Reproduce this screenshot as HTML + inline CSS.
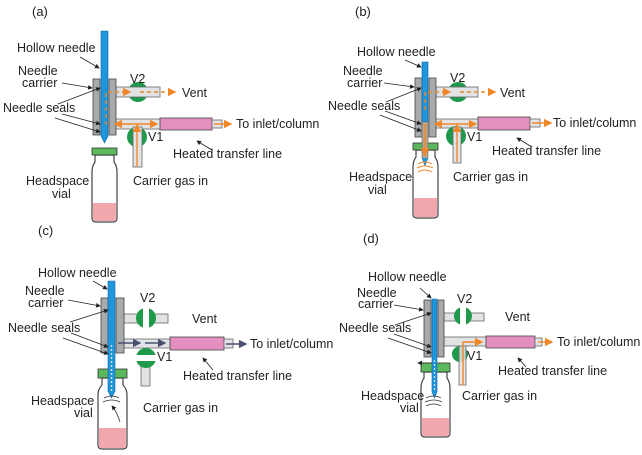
<!DOCTYPE html>
<html><head><meta charset="utf-8"><style>
html,body{margin:0;padding:0;background:#fff;}
svg{display:block;}
text{font-family:"Liberation Sans",sans-serif;font-size:12.5px;fill:#222;}
.blk{fill:#a9aaac;stroke:#444;stroke-width:0.8;}
.tube{fill:#e2e3e4;stroke:#666;stroke-width:0.8;}
.pink{fill:#e48fc0;stroke:#444;stroke-width:0.8;}
.ndl{fill:#1e96dc;stroke:#1565a0;stroke-width:0.6;}
.vg{fill:#1f9a4b;}
.cap{fill:#5cb85c;stroke:#333;stroke-width:0.8;}
.vial{fill:#fff;stroke:#444;stroke-width:1.2;}
.liq{fill:#f2a6ad;}
.or{stroke:#f0882a;stroke-width:1.4;fill:none;}
.ord{stroke:#f0882a;stroke-width:1.4;fill:none;stroke-dasharray:4 3;}
.lead{stroke:#222;stroke-width:0.8;fill:none;}
.dk{stroke:#4a4f6e;stroke-width:1.4;fill:none;}
</style></head><body>
<svg width="642" height="455" viewBox="0 0 642 455" xmlns="http://www.w3.org/2000/svg">
<defs>
<marker id="ao" markerWidth="6" markerHeight="6" refX="5" refY="3" orient="auto"><path d="M0,0 L6,3 L0,6z" fill="#f0882a"/></marker>
<marker id="ad" markerWidth="6" markerHeight="6" refX="5" refY="3" orient="auto"><path d="M0,0 L6,3 L0,6z" fill="#4a4f6e"/></marker>
<marker id="ab" markerWidth="6" markerHeight="6" refX="5" refY="3" orient="auto"><path d="M0,0 L6,3 L0,6z" fill="#222"/></marker>
</defs>

<!-- ===== (a) ===== -->
<text x="32" y="16" style="font-size:13px">(a)</text>
<path class="vial" d="M95,155 L95,162 Q92,166 92,172 L92,218 Q92,222 96,222 L113,222 Q117,222 117,218 L117,172 Q117,166 114,162 L114,155z"/>
<path class="liq" d="M93,203 L116,203 L116,218 Q116,221 113,221 L96,221 Q93,221 93,218z"/>
<rect class="cap" x="92" y="148" width="25" height="7"/>
<circle class="vg" cx="138" cy="92" r="10"/>
<rect class="tube" x="116" y="87" width="44" height="10"/>
<rect class="tube" x="116" y="119" width="46" height="10"/>
<circle class="vg" cx="137" cy="137" r="10"/>
<rect class="tube" x="133" y="127" width="9" height="40"/>
<rect class="blk" x="93" y="79" width="7" height="56"/>
<rect class="blk" x="109" y="79" width="7" height="56"/>
<path class="ndl" d="M101,31 L108,31 L108,136 L104.5,143 L101,136z"/>
<rect class="pink" x="160" y="118" width="52" height="12"/>
<rect class="tube" x="212" y="120" width="10" height="8"/>
<path class="ord" d="M106,125 L106,92 L130,92" marker-end="url(#ao)"/>
<path class="ord" d="M140,92 L175,92" marker-end="url(#ao)"/>
<path class="or" d="M137,124 L115,124" marker-end="url(#ao)"/>
<path class="or" d="M137,124 L157,124" marker-end="url(#ao)"/>
<path class="or" d="M137,167 L137,125" marker-end="url(#ao)"/>
<path class="or" d="M214,124 L231,124" marker-end="url(#ao)"/>
<text x="182" y="97">Vent</text>
<text x="236" y="128">To inlet/column</text>
<text x="148" y="141">V1</text>
<text x="130" y="83">V2</text>
<text x="173" y="158">Heated transfer line</text>
<text x="133" y="185">Carrier gas in</text>
<text x="17" y="52">Hollow needle</text>
<text x="18" y="75">Needle</text>
<text x="22" y="87">carrier</text>
<text x="3" y="112">Needle seals</text>
<text x="26" y="185">Headspace</text>
<text x="52" y="198">vial</text>
<path class="lead" d="M80,57 L99,68" marker-end="url(#ab)"/>
<path class="lead" d="M62,83 L92,88" marker-end="url(#ab)"/>
<path class="lead" d="M58,104 L100,88" marker-end="url(#ab)"/>
<path class="lead" d="M62,114 L100,124" marker-end="url(#ab)"/>
<path class="lead" d="M55,118 L100,132" marker-end="url(#ab)"/>

<!-- ===== (b) ===== -->
<text x="355" y="16" style="font-size:13px">(b)</text>
<path class="vial" d="M416,150 L416,157 Q413,161 413,167 L413,214 Q413,218 417,218 L434,218 Q438,218 438,214 L438,167 Q438,161 435,157 L435,150z"/>
<path class="liq" d="M414,198 L437,198 L437,214 Q437,217 434,217 L417,217 Q414,217 414,214z"/>
<rect class="cap" x="413" y="143" width="25" height="7"/>
<circle class="vg" cx="458" cy="92" r="10"/>
<rect class="tube" x="436" y="87" width="42" height="10"/>
<rect class="tube" x="436" y="119" width="44" height="9"/>
<circle class="vg" cx="456" cy="136" r="10"/>
<rect class="tube" x="453" y="127" width="8" height="36"/>
<rect class="blk" x="415" y="78" width="7" height="59"/>
<rect class="blk" x="429" y="78" width="7" height="59"/>
<rect x="422" y="62" width="6" height="60" class="ndl"/>
<path d="M422,122 L428,122 L428,158 L425,166 L422,158z" fill="#b9a68a" stroke="#666" stroke-width="0.6"/>
<path d="M422,158 L428,158 L425,166z" fill="#1e96dc"/>
<rect class="pink" x="478" y="117" width="52" height="13"/>
<rect class="tube" x="530" y="119" width="10" height="8"/>
<path class="ord" d="M425,110 L425,92 L450,92" marker-end="url(#ao)"/>
<path class="ord" d="M460,92 L495,92" marker-end="url(#ao)"/>
<path class="or" d="M457,124 L435,124" marker-end="url(#ao)"/>
<path class="or" d="M457,124 L476,124" marker-end="url(#ao)"/>
<path class="or" d="M457,162 L457,125" marker-end="url(#ao)"/>
<path class="or" d="M532,123 L551,123" marker-end="url(#ao)"/>
<path class="or" d="M425,124 L425,155" marker-end="url(#ao)"/>
<path d="M418,164 q7,-4 14,0 M417,168 q8,-4 16,0 M418,172 q7,-4 14,0" stroke="#f0882a" stroke-width="1" fill="none"/>
<text x="500" y="97">Vent</text>
<text x="553" y="127">To inlet/column</text>
<text x="467" y="141">V1</text>
<text x="450" y="82">V2</text>
<text x="492" y="155">Heated transfer line</text>
<text x="453" y="181">Carrier gas in</text>
<text x="357" y="56">Hollow needle</text>
<text x="343" y="75">Needle</text>
<text x="347" y="87">carrier</text>
<text x="328" y="110">Needle seals</text>
<text x="349" y="181">Headspace</text>
<text x="368" y="194">vial</text>
<path class="lead" d="M405,60 L421,67" marker-end="url(#ab)"/>
<path class="lead" d="M384,83 L414,87" marker-end="url(#ab)"/>
<path class="lead" d="M386,102 L421,88" marker-end="url(#ab)"/>
<path class="lead" d="M385,111 L421,124" marker-end="url(#ab)"/>
<path class="lead" d="M380,115 L421,131" marker-end="url(#ab)"/>

<!-- ===== (c) ===== -->
<text x="38" y="235" style="font-size:13px">(c)</text>
<path class="vial" d="M102,378 L102,385 Q98,389 98,395 L98,445 Q98,449 102,449 L123,449 Q127,449 127,445 L127,395 Q127,389 123,385 L123,378z"/>
<path class="liq" d="M99,428 L126,428 L126,445 Q126,448 123,448 L102,448 Q99,448 99,445z"/>
<rect class="cap" x="98" y="369" width="29" height="9"/>
<rect class="tube" x="124" y="314" width="44" height="9"/>
<circle class="vg" cx="146" cy="318" r="10"/>
<rect x="143" y="308" width="6" height="20" fill="#fff"/>
<rect class="tube" x="124" y="339" width="46" height="9"/>
<rect class="tube" x="141" y="362" width="9" height="24"/>
<circle class="vg" cx="146" cy="358" r="10"/>
<rect x="136" y="355" width="20" height="6" fill="#fff"/>
<rect class="blk" x="101" y="298" width="7" height="55"/>
<rect class="blk" x="116" y="298" width="8" height="55"/>
<path class="ndl" d="M108,281 L115,281 L115,391 L111.5,398 L108,391z"/>
<path d="M111.5,345 L111.5,392" stroke="#ddd" stroke-width="1.4" stroke-dasharray="2 2"/>
<rect class="pink" x="170" y="337" width="54" height="13"/>
<rect class="tube" x="224" y="339" width="9" height="9"/>
<path class="dk" d="M118,343 L140,343" marker-end="url(#ad)"/>
<path class="dk" d="M145,343 L165,343" marker-end="url(#ad)"/>
<path class="dk" d="M226,344 L246,344" marker-end="url(#ad)"/>
<path d="M104,398 q8,-4 15,0 M103,402 q9,-4 17,0" stroke="#333" stroke-width="0.7" fill="none"/>
<path d="M120,422 q-3,-10 -8,-16" stroke="#333" stroke-width="0.8" fill="none" marker-end="url(#ab)"/>
<text x="192" y="323">Vent</text>
<text x="250" y="348">To inlet/column</text>
<text x="157" y="361">V1</text>
<text x="140" y="302">V2</text>
<text x="183" y="380">Heated transfer line</text>
<text x="143" y="412">Carrier gas in</text>
<text x="38" y="277">Hollow needle</text>
<text x="25" y="295">Needle</text>
<text x="28" y="307">carrier</text>
<text x="8" y="332">Needle seals</text>
<text x="31" y="405">Headspace</text>
<text x="74" y="417">vial</text>
<path class="lead" d="M93,281 L107,289" marker-end="url(#ab)"/>
<path class="lead" d="M68,300 L100,306" marker-end="url(#ab)"/>
<path class="lead" d="M70,322 L108,310" marker-end="url(#ab)"/>
<path class="lead" d="M71,333 L108,347" marker-end="url(#ab)"/>
<path class="lead" d="M63,338 L108,354" marker-end="url(#ab)"/>
<path class="lead" d="M213,370 L203,358" marker-end="url(#ab)"/>

<!-- ===== (d) ===== -->
<text x="363" y="243" style="font-size:13px">(d)</text>
<path class="vial" d="M424,372 L424,378 Q421,382 421,388 L421,433 Q421,437 425,437 L446,437 Q450,437 450,433 L450,388 Q450,382 447,378 L447,372z"/>
<path class="liq" d="M422,418 L449,418 L449,433 Q449,436 446,436 L425,436 Q422,436 422,433z"/>
<rect class="cap" x="421" y="363" width="29" height="9"/>
<rect class="tube" x="444" y="313" width="40" height="8"/>
<circle class="vg" cx="463" cy="316" r="9"/>
<rect x="460" y="307" width="6" height="18" fill="#fff"/>
<rect class="tube" x="444" y="337" width="42" height="9"/>
<circle class="vg" cx="460" cy="354" r="8"/>
<rect class="tube" x="459" y="346" width="7" height="39" style="fill-opacity:0.85"/>
<rect class="blk" x="424" y="300" width="7" height="57"/>
<rect class="blk" x="438" y="300" width="6" height="57"/>
<path class="ndl" d="M432,299 L437,299 L437,392 L434.5,398 L432,392z"/>
<path d="M434.5,360 L434.5,392" stroke="#ddd" stroke-width="1.2" stroke-dasharray="2 2"/>
<rect class="pink" x="486" y="336" width="49" height="12"/>
<rect class="tube" x="535" y="338" width="7" height="8"/>
<path class="or" d="M463,385 L463,342 L482,342" marker-end="url(#ao)"/>
<path class="or" d="M538,342 L552,342" marker-end="url(#ao)"/>
<path d="M426,398 q8,-4 15,0 M425,402 q9,-4 17,0 M426,406 q8,-4 15,0" stroke="#333" stroke-width="0.7" fill="none"/>
<path d="M432,363 L418,363" stroke="#333" stroke-width="0.8" marker-end="url(#ab)"/>
<text x="505" y="321">Vent</text>
<text x="557" y="346">To inlet/column</text>
<text x="467" y="360">V1</text>
<text x="457" y="303">V2</text>
<text x="498" y="375">Heated transfer line</text>
<text x="462" y="400">Carrier gas in</text>
<text x="368" y="281">Hollow needle</text>
<text x="357" y="297">Needle</text>
<text x="358" y="308">carrier</text>
<text x="339" y="332">Needle seals</text>
<text x="361" y="400">Headspace</text>
<text x="400" y="412">vial</text>
<path class="lead" d="M420,288 L431,298" marker-end="url(#ab)"/>
<path class="lead" d="M394,305 L423,310" marker-end="url(#ab)"/>
<path class="lead" d="M395,325 L431,313" marker-end="url(#ab)"/>
<path class="lead" d="M394,334 L431,347" marker-end="url(#ab)"/>
<path class="lead" d="M388,338 L431,353" marker-end="url(#ab)"/>
<path class="lead" d="M526,367 L518,358" marker-end="url(#ab)"/>
<path class="lead" d="M212,150 L197,141" marker-end="url(#ab)"/>
<path class="lead" d="M532,147 L517,138" marker-end="url(#ab)"/>
</svg>
</body></html>
